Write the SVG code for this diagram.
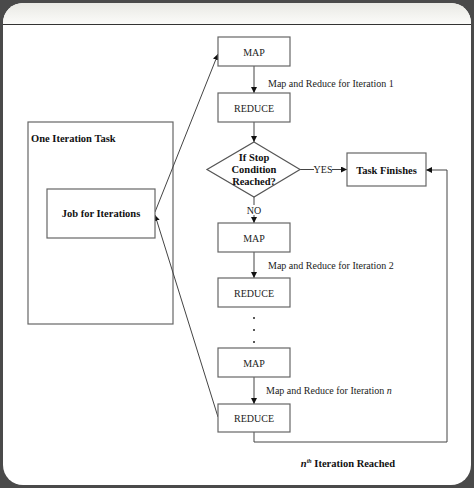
<svg xmlns="http://www.w3.org/2000/svg" width="474" height="488" viewBox="0 0 474 488">
<defs>
<linearGradient id="hdr" x1="0" y1="0" x2="0" y2="1">
<stop offset="0" stop-color="#e9e9e4"/>
<stop offset="1" stop-color="#fbfbf9"/>
</linearGradient>
<marker id="ah" viewBox="0 0 10 10" refX="10" refY="5" markerWidth="6" markerHeight="6" orient="auto" markerUnits="userSpaceOnUse">
<path d="M0,0 L10,5 L0,10 z" fill="#111"/>
</marker>
<clipPath id="fr"><rect x="3" y="3" width="468" height="482" rx="20" ry="20"/></clipPath>
</defs>
<style>
.box{fill:#fff;stroke:#666;stroke-width:1.2}
.t{font-family:"Liberation Serif","Times New Roman",serif;font-size:10px;fill:#222;text-anchor:middle}
.b{font-family:"Liberation Serif","Times New Roman",serif;font-size:10.5px;font-weight:bold;fill:#111;text-anchor:middle}
.l{font-family:"Liberation Serif","Times New Roman",serif;font-size:10px;fill:#222}
.c{fill:none;stroke:#444;stroke-width:1}
</style>
<rect x="0" y="0" width="474" height="488" fill="#4a4a4a"/>
<rect x="3" y="3" width="468" height="482" rx="20" ry="20" fill="#fff"/>
<rect x="3" y="3" width="468" height="21" fill="url(#hdr)" clip-path="url(#fr)"/>
<line x1="3" y1="24.5" x2="471" y2="24.5" stroke="#333" stroke-width="1.2"/>

<g id="one-iteration-task">
<rect x="28" y="122" width="145" height="202" fill="none" stroke="#666" stroke-width="1.2"/>
<text class="b" x="31" y="142" style="text-anchor:start">One Iteration Task</text>
</g>

<g id="connectors">
<line class="c" x1="254" y1="66" x2="254" y2="93" marker-end="url(#ah)"/>
<line class="c" x1="254" y1="122" x2="254" y2="142" marker-end="url(#ah)"/>
<line class="c" x1="300" y1="169.5" x2="347" y2="169.5" marker-end="url(#ah)"/>
<line class="c" x1="254" y1="197" x2="254" y2="223" marker-end="url(#ah)"/>
<line class="c" x1="254" y1="252" x2="254" y2="278" marker-end="url(#ah)"/>
<line class="c" x1="254" y1="377" x2="254" y2="404" marker-end="url(#ah)"/>
<polyline class="c" points="254,432 254,442 447,442 447,170 426,170" marker-end="url(#ah)"/>
<line class="c" x1="155" y1="212" x2="218" y2="54" marker-end="url(#ah)"/>
<line class="c" x1="218" y1="417" x2="155" y2="215" marker-end="url(#ah)"/>
<rect x="314" y="164" width="18" height="10" fill="#fff"/>
<text class="t" x="323" y="172.5" font-size="8">YES</text>
<rect x="246" y="205" width="16" height="10" fill="#fff"/>
<text class="t" x="254" y="213.5" font-size="8">NO</text>
<text class="l" x="268" y="87">Map and Reduce for Iteration 1</text>
<text class="l" x="268" y="269">Map and Reduce for Iteration 2</text>
<text class="l" x="266" y="394">Map and Reduce for Iteration <tspan font-style="italic">n</tspan></text>
</g>

<g id="job-for-iterations">
<rect class="box" x="47" y="189" width="108" height="49"/>
<text class="b" x="101" y="217">Job for Iterations</text>
</g>
<g id="map1"><rect class="box" x="218" y="37" width="72" height="29"/><text class="t" x="254" y="55.5">MAP</text></g>
<g id="reduce1"><rect class="box" x="218" y="93" width="72" height="29"/><text class="t" x="254" y="111.5">REDUCE</text></g>
<g id="decision">
<polygon points="254,142 300,169.5 254,197 207,169.5" fill="#fff" stroke="#555" stroke-width="1.2"/>
<text class="b" x="254" y="161">If Stop</text>
<text class="b" x="254" y="173">Condition</text>
<text class="b" x="254" y="185">Reached?</text>
</g>
<g id="task-finishes"><rect class="box" x="347" y="153" width="79" height="33"/><text class="b" x="386.5" y="173.5">Task Finishes</text></g>
<g id="map2"><rect class="box" x="218" y="223" width="72" height="29"/><text class="t" x="254" y="241.5">MAP</text></g>
<g id="reduce2"><rect class="box" x="218" y="278" width="72" height="29"/><text class="t" x="254" y="296.5">REDUCE</text></g>
<g id="dots" fill="#222">
<circle cx="254" cy="318" r="1"/><circle cx="254" cy="330" r="1"/><circle cx="254" cy="342" r="1"/>
</g>
<g id="map3"><rect class="box" x="218" y="348" width="72" height="29"/><text class="t" x="254" y="366.5">MAP</text></g>
<g id="reduce3"><rect class="box" x="218" y="404" width="72" height="28"/><text class="t" x="254" y="422">REDUCE</text></g>
<text class="b" x="348" y="467"><tspan font-style="italic">n</tspan><tspan font-size="6" dy="-4" font-style="italic">th</tspan><tspan dy="4"> Iteration Reached</tspan></text>
</svg>
